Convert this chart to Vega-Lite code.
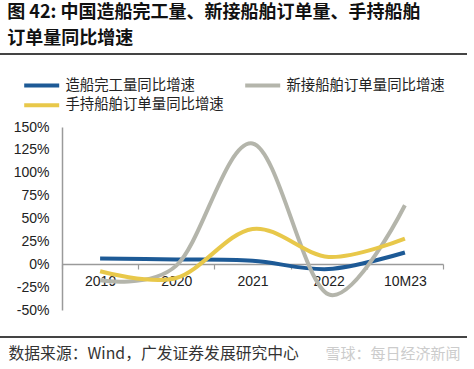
{
  "$schema": "https://vega.github.io/schema/vega-lite/v6.json",
  "width": 381,
  "height": 183,
  "autosize": {"type": "none"},
  "padding": {"left": 62, "top": 127, "right": 31, "bottom": 59},
  "background": "white",
  "title": {
    "text": "图 42:  中国造船完工量、新接船舶订单量、手持船舶",
    "subtitle": "订单量同比增速",
    "font": "Noto Sans CJK SC",
    "fontSize": 18,
    "fontWeight": "bold",
    "color": "#111111",
    "subtitleFont": "Noto Sans CJK SC",
    "subtitleFontSize": 18,
    "subtitleFontWeight": "bold",
    "subtitleColor": "#111111",
    "subtitlePadding": 8,
    "anchor": "start",
    "frame": "bounds",
    "offset": 8,
    "dx": 8,
    "dy": 3
  },
  "config": {
    "view": {"stroke": null}
  },
  "data": {
    "values": [
      {"year": "2019", "series": "造船完工量同比增速", "value": 6.2},
      {"year": "2020", "series": "造船完工量同比增速", "value": 5.3},
      {"year": "2021", "series": "造船完工量同比增速", "value": 3.8},
      {"year": "2022", "series": "造船完工量同比增速", "value": -5.3},
      {"year": "10M23", "series": "造船完工量同比增速", "value": 12.8},
      {"year": "2019", "series": "新接船舶订单量同比增速", "value": -17.5},
      {"year": "2020", "series": "新接船舶订单量同比增速", "value": -1.5},
      {"year": "2021", "series": "新接船舶订单量同比增速", "value": 132},
      {"year": "2022", "series": "新接船舶订单量同比增速", "value": -33},
      {"year": "10M23", "series": "新接船舶订单量同比增速", "value": 64.5},
      {"year": "2019", "series": "手持船舶订单量同比增速", "value": -7.7},
      {"year": "2020", "series": "手持船舶订单量同比增速", "value": -15},
      {"year": "2021", "series": "手持船舶订单量同比增速", "value": 38.6},
      {"year": "2022", "series": "手持船舶订单量同比增速", "value": 8},
      {"year": "10M23", "series": "手持船舶订单量同比增速", "value": 28}
    ]
  },
  "layer": [
    {
      "mark": {"type": "line", "interpolate": "cardinal", "strokeWidth": 4, "clip": false},
      "encoding": {
        "x": {
          "field": "year",
          "type": "ordinal",
          "sort": ["2019", "2020", "2021", "2022", "10M23"],
          "bandPosition": 0.5,
          "scale": {"type": "band", "paddingInner": 0, "paddingOuter": 0},
          "axis": {
            "orient": "bottom",
            "offset": -46,
            "labelAngle": 0,
            "labelFont": "Liberation Sans",
            "labelFontSize": 14,
            "labelColor": "#222222",
            "labelPadding": 5,
            "labelOverlap": false,
            "tickBand": "extent",
            "tickSize": 5,
            "tickColor": "#9a9a9a",
            "tickWidth": 1.2,
            "domainColor": "#9a9a9a",
            "domainWidth": 1.5,
            "grid": false,
            "title": "数据来源：Wind，广发证券发展研究中心",
            "titleFont": "Noto Sans CJK SC",
            "titleFontSize": 15.8,
            "titleFontWeight": "normal",
            "titleColor": "#333333",
            "titleX": -54,
            "titleY": 94,
            "titleAlign": "left",
            "titleAnchor": "start",
            "titleBaseline": "alphabetic"
          }
        },
        "y": {
          "field": "value",
          "type": "quantitative",
          "scale": {"domain": [-50, 150], "nice": false, "zero": false},
          "axis": {
            "values": [-50, -25, 0, 25, 50, 75, 100, 125, 150],
            "labelExpr": "datum.value + '%'",
            "labelFont": "Liberation Sans",
            "labelFontSize": 14,
            "labelColor": "#222222",
            "labelPadding": 13,
            "labelOverlap": false,
            "ticks": false,
            "tickSize": 0,
            "grid": false,
            "domainColor": "#9a9a9a",
            "domainWidth": 1.5,
            "title": "雪球：每日经济新闻",
            "titleAngle": 0,
            "titleFont": "Noto Sans CJK SC",
            "titleFontSize": 15,
            "titleFontWeight": "normal",
            "titleColor": "#cccccc",
            "titleX": 263,
            "titleY": 231,
            "titleAlign": "left",
            "titleAnchor": "start",
            "titleBaseline": "alphabetic"
          }
        },
        "color": {
          "field": "series",
          "type": "nominal",
          "sort": ["造船完工量同比增速", "新接船舶订单量同比增速", "手持船舶订单量同比增速"],
          "scale": {
            "domain": ["造船完工量同比增速", "新接船舶订单量同比增速", "手持船舶订单量同比增速"],
            "range": ["#1d5a96", "#b4b5ab", "#e8c84a"]
          },
          "legend": {
            "orient": "none",
            "legendX": -40,
            "legendY": -49,
            "direction": "horizontal",
            "columns": 2,
            "title": null,
            "padding": 0,
            "symbolType": "M-1,0H6",
            "symbolSize": 100,
            "symbolStrokeWidth": 4,
            "labelFont": "Noto Sans CJK SC",
            "labelFontSize": 14.4,
            "labelColor": "#222222",
            "labelOffset": 29,
            "labelLimit": 300,
            "columnPadding": 13,
            "rowPadding": 3
          }
        }
      }
    },
    {
      "mark": {"type": "rule", "color": "#444444", "strokeWidth": 1.5, "clip": false},
      "encoding": {
        "x": {"datum": -0.1627, "type": "quantitative", "scale": {"domain": [0, 1], "nice": false, "zero": false}, "axis": null},
        "x2": {"datum": 1.063},
        "y": {"datum": 229.8, "type": "quantitative", "axis": null}
      }
    },
    {
      "mark": {"type": "rule", "color": "#444444", "strokeWidth": 1.5, "clip": false},
      "encoding": {
        "x": {"datum": -0.1627, "type": "quantitative", "scale": {"domain": [0, 1], "nice": false, "zero": false}, "axis": null},
        "x2": {"datum": 1.063},
        "y": {"datum": -79.5, "type": "quantitative", "axis": null}
      }
    }
  ],
  "resolve": {"scale": {"x": "independent"}, "axis": {"y": "independent"}}
}
